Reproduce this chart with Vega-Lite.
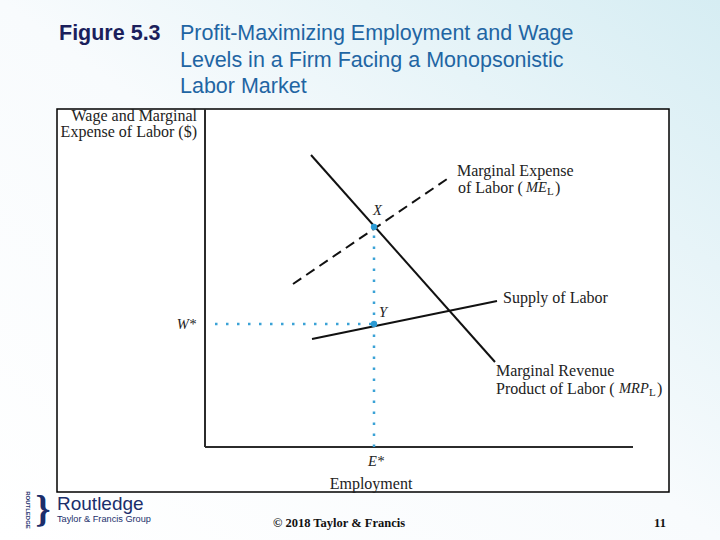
{
  "$schema": "https://vega.github.io/schema/vega-lite/v6.json",
  "width": 720,
  "height": 540,
  "autosize": {"type": "none"},
  "padding": 0,
  "background": "#ffffff",
  "config": {"view": {"stroke": null}},
  "encoding": {
    "x": {"field": "e", "type": "quantitative", "scale": {"domain": [-205, 515], "nice": false, "zero": false}, "axis": null},
    "y": {"field": "w", "type": "quantitative", "scale": {"domain": [-93, 447], "nice": false, "zero": false}, "axis": null}
  },
  "layer": [
    {
      "data": {"values": [{"e": -205, "e2": 515, "w": -93, "w2": 447}]},
      "mark": {"type": "rect", "fill": {"gradient": "linear", "x1": 0, "y1": 1, "x2": 1, "y2": 0, "stops": [{"offset": 0, "color": "#ffffff"}, {"offset": 0.5, "color": "#f8fbfd"}, {"offset": 1, "color": "#d6edf3"}]}},
      "encoding": {"x2": {"field": "e2"}, "y2": {"field": "w2"}}
    },
    {
      "data": {"values": [{"e": -148, "e2": 464, "w": -45, "w2": 338}]},
      "mark": {"type": "rect", "fill": "#ffffff", "stroke": "#000000", "strokeWidth": 1.5},
      "encoding": {"x2": {"field": "e2"}, "y2": {"field": "w2"}}
    },
    {
      "data": {"values": [{"e": 0, "w": 0, "e2": 0, "w2": 338}, {"e": 0, "w": 0, "e2": 428, "w2": 0}]},
      "mark": {"type": "rule", "stroke": "#2b2b2b", "strokeWidth": 2},
      "encoding": {"x2": {"field": "e2"}, "y2": {"field": "w2"}}
    },
    {
      "data": {"values": [
        {"curve": "MRP", "e": 106, "w": 292}, {"curve": "MRP", "e": 290, "w": 85},
        {"curve": "Supply", "e": 107, "w": 108}, {"curve": "Supply", "e": 292, "w": 146}
      ]},
      "mark": {"type": "line", "stroke": "#111111", "strokeWidth": 2},
      "encoding": {"detail": {"field": "curve"}}
    },
    {
      "data": {"values": [{"curve": "ME", "e": 88, "w": 163}, {"curve": "ME", "e": 245, "w": 270}]},
      "mark": {"type": "line", "stroke": "#111111", "strokeWidth": 2, "strokeDash": [10, 6]},
      "encoding": {"detail": {"field": "curve"}}
    },
    {
      "data": {"values": [{"e": 169, "w": 0, "e2": 169, "w2": 220}, {"e": 10, "w": 123, "e2": 169, "w2": 123}]},
      "mark": {"type": "rule", "stroke": "#3aa2d6", "strokeWidth": 2.5, "strokeDash": [2.5, 8.5]},
      "encoding": {"x2": {"field": "e2"}, "y2": {"field": "w2"}}
    },
    {
      "data": {"values": [{"point": "X", "e": 169, "w": 220}, {"point": "Y", "e": 169, "w": 123}]},
      "mark": {"type": "point", "filled": true, "color": "#2a9ad4", "size": 40, "opacity": 1}
    },
    {
      "data": {"values": [
        {"t": "Marginal Expense", "e": 252, "w": 276},
        {"t": "of Labor (", "e": 253, "w": 259},
        {"t": ")", "e": 350, "w": 259},
        {"t": "Supply of Labor", "e": 298, "w": 149},
        {"t": "Marginal Revenue", "e": 291, "w": 76},
        {"t": "Product of Labor (", "e": 291, "w": 58},
        {"t": ")", "e": 452, "w": 58}
      ]},
      "mark": {"type": "text", "align": "left", "baseline": "middle", "font": "Liberation Serif", "fontSize": 16, "color": "#222222"},
      "encoding": {"text": {"field": "t"}}
    },
    {
      "data": {"values": [{"t": "Employment", "e": 166, "w": -37}]},
      "mark": {"type": "text", "align": "center", "baseline": "middle", "font": "Liberation Serif", "fontSize": 16, "color": "#222222"},
      "encoding": {"text": {"field": "t"}}
    },
    {
      "data": {"values": [
        {"t": "Wage and Marginal", "e": -8, "w": 331},
        {"t": "Expense of Labor ($)", "e": -8, "w": 315}
      ]},
      "mark": {"type": "text", "align": "right", "baseline": "middle", "font": "Liberation Serif", "fontSize": 16, "color": "#222222"},
      "encoding": {"text": {"field": "t"}}
    },
    {
      "data": {"values": [
        {"t": "ME", "e": 321, "w": 259},
        {"t": "MRP", "e": 414, "w": 58},
        {"t": "X", "e": 168, "w": 236},
        {"t": "Y", "e": 174, "w": 134},
        {"t": "E*", "e": 163, "w": -15}
      ]},
      "mark": {"type": "text", "align": "left", "baseline": "middle", "font": "Liberation Serif", "fontStyle": "italic", "fontSize": 14.5, "color": "#222222"},
      "encoding": {"text": {"field": "t"}}
    },
    {
      "data": {"values": [{"t": "W*", "e": -9, "w": 122}]},
      "mark": {"type": "text", "align": "right", "baseline": "middle", "font": "Liberation Serif", "fontStyle": "italic", "fontSize": 14.5, "color": "#222222"},
      "encoding": {"text": {"field": "t"}}
    },
    {
      "data": {"values": [{"t": "L", "e": 342, "w": 255}, {"t": "L", "e": 444, "w": 54}]},
      "mark": {"type": "text", "align": "left", "baseline": "middle", "font": "Liberation Serif", "fontSize": 11, "color": "#222222"},
      "encoding": {"text": {"field": "t"}}
    },
    {
      "data": {"values": [{"t": "Figure 5.3", "e": -146, "w": 413}]},
      "mark": {"type": "text", "align": "left", "baseline": "middle", "font": "Liberation Sans", "fontWeight": "bold", "fontSize": 21.5, "color": "#1b1f5c"},
      "encoding": {"text": {"field": "t"}}
    },
    {
      "data": {"values": [
        {"t": "Profit-Maximizing Employment and Wage", "e": -25, "w": 413},
        {"t": "Levels in a Firm Facing a Monopsonistic", "e": -25, "w": 386},
        {"t": "Labor Market", "e": -25, "w": 360}
      ]},
      "mark": {"type": "text", "align": "left", "baseline": "middle", "font": "Liberation Sans", "fontSize": 21.5, "color": "#1f65a3"},
      "encoding": {"text": {"field": "t"}}
    },
    {
      "data": {"values": [{"t": "© 2018 Taylor & Francis", "e": 134, "w": -76}, {"t": "11", "e": 455, "w": -76}]},
      "mark": {"type": "text", "align": "center", "baseline": "middle", "font": "Liberation Serif", "fontWeight": "bold", "fontSize": 12.5, "color": "#111111"},
      "encoding": {"text": {"field": "t"}}
    },
    {
      "data": {"values": [{"t": "Routledge", "e": -148, "w": -57}]},
      "mark": {"type": "text", "align": "left", "baseline": "middle", "font": "Liberation Sans", "fontSize": 19, "color": "#1b2e6b"},
      "encoding": {"text": {"field": "t"}}
    },
    {
      "data": {"values": [{"t": "Taylor & Francis Group", "e": -148, "w": -72}]},
      "mark": {"type": "text", "align": "left", "baseline": "middle", "font": "Liberation Sans", "fontSize": 9.2, "color": "#1b2e6b"},
      "encoding": {"text": {"field": "t"}}
    },
    {
      "data": {"values": [{"t": "}", "e": -162, "w": -64}]},
      "mark": {"type": "text", "align": "center", "baseline": "middle", "font": "Liberation Serif", "fontWeight": "bold", "fontSize": 38, "color": "#1b2e6b"},
      "encoding": {"text": {"field": "t"}}
    },
    {
      "data": {"values": [{"t": "ROUTLEDGE", "e": -177, "w": -63}]},
      "mark": {"type": "text", "align": "center", "baseline": "middle", "angle": 90, "font": "Liberation Sans", "fontWeight": "bold", "fontSize": 6, "color": "#1b2e6b"},
      "encoding": {"text": {"field": "t"}}
    }
  ]
}
